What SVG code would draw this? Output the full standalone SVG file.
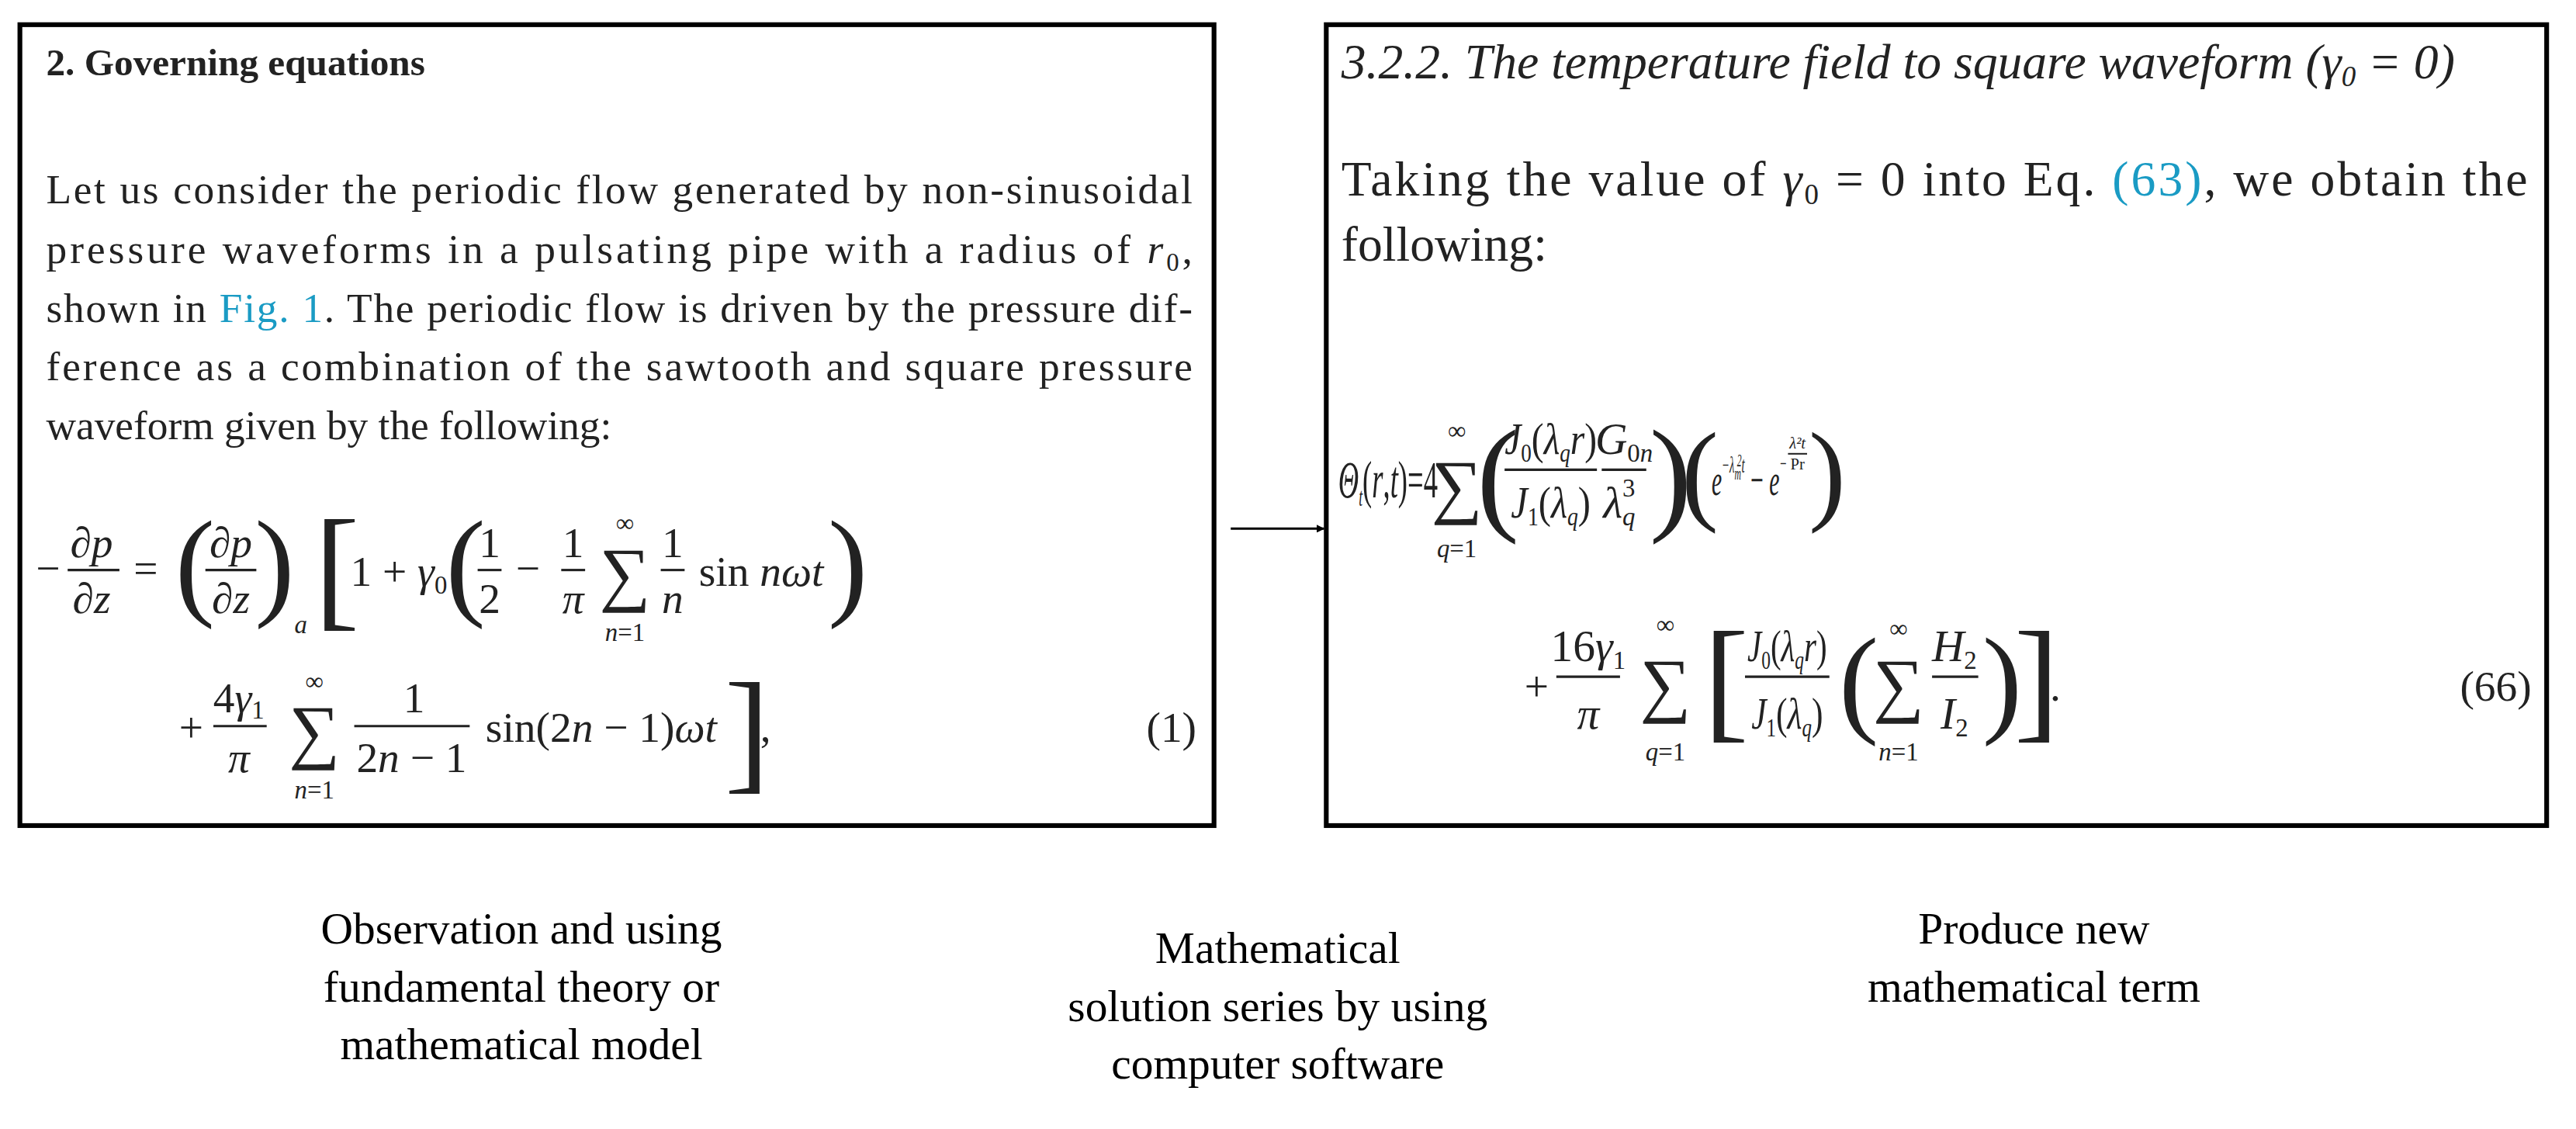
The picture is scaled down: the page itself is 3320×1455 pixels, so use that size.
<svg xmlns="http://www.w3.org/2000/svg" width="3320" height="1455" viewBox="0 0 3320 1455">
<style>
.box{fill:#fff;stroke:#000;stroke-width:6}
.t{font-family:"Liberation Serif",serif;fill:#222}
.b{font-size:52px}
.m{font-size:54px;font-style:italic}
.r{font-size:54px}
.s{font-size:32px}
.lk{fill:#1a9bc4}
.cap{font-family:"Liberation Serif",serif;font-size:56px;fill:#000;text-anchor:middle}
.bar{stroke:#222;stroke-width:3}
.big{font-family:"Liberation Serif",serif;fill:#222}
</style>
<defs><marker id="ah" viewBox="0 0 10 10" refX="9" refY="5" markerWidth="10" markerHeight="10" markerUnits="userSpaceOnUse" orient="auto"><path d="M0,0L10,5L0,10z"/></marker></defs>
<rect width="3320" height="1455" fill="#fff"/>
<g transform="scale(1.026)">
<g id="node-left">
<rect class="box" x="25" y="31" width="1500" height="1006"/>
<text class="t" x="58" y="95" font-size="48" font-weight="bold">2. Governing equations</text>
<g class="t b">
<text x="58" y="255" textLength="1440" lengthAdjust="spacing">Let us consider the periodic flow generated by non-sinusoidal</text>
<text x="58" y="330" textLength="1440" lengthAdjust="spacing">pressure waveforms in a pulsating pipe with a radius of <tspan font-style="italic">r</tspan><tspan font-size="32" dy="10">0</tspan><tspan dy="-10">,</tspan></text>
<text x="58" y="404" textLength="1440" lengthAdjust="spacing">shown in <tspan class="lk">Fig. 1</tspan>. The periodic flow is driven by the pressure dif-</text>
<text x="58" y="478" textLength="1440" lengthAdjust="spacing">ference as a combination of the sawtooth and square pressure</text>
<text x="58" y="552">waveform given by the following:</text>
</g>
<g class="t r">
<text x="45" y="732">−</text>
<text x="115" y="700" text-anchor="middle" class="m">∂p</text><line class="bar" x1="85" y1="716" x2="150" y2="716"/><text x="115" y="770" text-anchor="middle" class="m">∂z</text>
<text x="168" y="732">=</text>
<text x="220" y="758" font-size="150" class="big">(</text>
<text x="290" y="700" text-anchor="middle" class="m">∂p</text><line class="bar" x1="258" y1="716" x2="322" y2="716"/><text x="290" y="770" text-anchor="middle" class="m">∂z</text>
<text x="320" y="758" font-size="150" class="big">)</text>
<text x="370" y="795" class="s" font-style="italic">a</text>
<text x="395" y="770" font-size="170" class="big">[</text>
<text x="440" y="736">1 + <tspan font-style="italic">γ</tspan><tspan class="s" dy="10">0</tspan></text>
<text x="560" y="758" font-size="150" class="big">(</text>
<text x="615" y="700" text-anchor="middle">1</text><line class="bar" x1="600" y1="716" x2="630" y2="716"/><text x="615" y="770" text-anchor="middle">2</text>
<text x="648" y="732">−</text>
<text x="720" y="700" text-anchor="middle">1</text><line class="bar" x1="705" y1="716" x2="735" y2="716"/><text x="720" y="770" text-anchor="middle" class="m">π</text>
<text x="785" y="750" font-size="90" text-anchor="middle">∑</text>
<text x="785" y="668" class="s" text-anchor="middle">∞</text>
<text x="785" y="805" class="s" text-anchor="middle"><tspan font-style="italic">n</tspan>=1</text>
<text x="845" y="700" text-anchor="middle">1</text><line class="bar" x1="830" y1="716" x2="860" y2="716"/><text x="845" y="770" text-anchor="middle" class="m">n</text>
<text x="878" y="736">sin <tspan font-style="italic">nωt</tspan></text>
<text x="1040" y="758" font-size="150" class="big">)</text>
<text x="225" y="932">+</text>
<text x="300" y="895" text-anchor="middle">4<tspan font-style="italic">γ</tspan><tspan class="s" dy="8">1</tspan></text><line class="bar" x1="268" y1="912" x2="335" y2="912"/><text x="300" y="970" text-anchor="middle" class="m">π</text>
<text x="395" y="948" font-size="90" text-anchor="middle">∑</text>
<text x="395" y="866" class="s" text-anchor="middle">∞</text>
<text x="395" y="1003" class="s" text-anchor="middle"><tspan font-style="italic">n</tspan>=1</text>
<text x="520" y="895" text-anchor="middle">1</text><line class="bar" x1="445" y1="912" x2="590" y2="912"/><text x="517" y="970" text-anchor="middle">2<tspan font-style="italic">n</tspan> − 1</text>
<text x="610" y="932">sin(2<tspan font-style="italic">n</tspan> − 1)<tspan font-style="italic">ωt</tspan></text>
<text x="910" y="975" font-size="170" class="big">]</text>
<text x="955" y="932">,</text>
<text x="1440" y="932">(1)</text>
</g>
</g>
<g id="node-right">
<rect class="box" x="1666" y="31" width="1533" height="1006"/>
<text class="t" x="1685" y="98" font-size="62" font-style="italic">3.2.2. The temperature field to square waveform (<tspan>γ</tspan><tspan font-size="36" dy="10">0</tspan><tspan dy="-10"> = 0)</tspan></text>
<text class="t" x="1685" y="246" font-size="62" textLength="1490" lengthAdjust="spacing">Taking the value of <tspan font-style="italic">γ</tspan><tspan font-size="36" dy="10">0</tspan><tspan dy="-10"> = 0 into Eq. </tspan><tspan class="lk">(63)</tspan>, we obtain the</text>
<text class="t" x="1685" y="327" font-size="62">following:</text>
<g class="t r">
<text x="1681" y="625" font-size="66" textLength="125" lengthAdjust="spacingAndGlyphs"><tspan font-style="italic">Θ</tspan><tspan class="s" font-style="italic" dy="10">t</tspan><tspan dy="-10">(</tspan><tspan font-style="italic">r</tspan>,<tspan font-style="italic">t</tspan>)=4</text>
<text x="1830" y="640" font-size="90" text-anchor="middle">∑</text>
<text x="1830" y="552" class="s" text-anchor="middle">∞</text>
<text x="1830" y="700" class="s" text-anchor="middle"><tspan font-style="italic">q</tspan>=1</text>
<text x="1855" y="650" font-size="160" class="big">(</text>
<text x="1948" y="570" text-anchor="middle" font-size="56" textLength="116" lengthAdjust="spacingAndGlyphs"><tspan font-style="italic">J</tspan><tspan class="s" dy="10">0</tspan><tspan dy="-10">(</tspan><tspan font-style="italic">λ</tspan><tspan class="s" font-style="italic" dy="10">q</tspan><tspan dy="-10" font-style="italic">r</tspan>)</text>
<line class="bar" x1="1890" y1="590" x2="2006" y2="590"/>
<text x="1948" y="650" text-anchor="middle" font-size="56" textLength="100" lengthAdjust="spacingAndGlyphs"><tspan font-style="italic">J</tspan><tspan class="s" dy="10">1</tspan><tspan dy="-10">(</tspan><tspan font-style="italic">λ</tspan><tspan class="s" font-style="italic" dy="10">q</tspan><tspan dy="-10">)</tspan></text>
<text x="2040" y="570" text-anchor="middle" font-size="56"><tspan font-style="italic">G</tspan><tspan class="s" dy="10">0<tspan font-style="italic">n</tspan></tspan></text>
<line class="bar" x1="2012" y1="590" x2="2068" y2="590"/>
<text x="2034" y="650" text-anchor="middle" font-size="56"><tspan font-style="italic">λ</tspan><tspan class="s" font-style="italic" dy="10">q</tspan><tspan class="s" dx="-16" dy="-36">3</tspan></text>
<text x="2072" y="650" font-size="160" class="big">)</text>
<text x="2112" y="640" font-size="140" class="big">(</text>
<text x="2150" y="622" font-size="56" font-style="italic" textLength="95" lengthAdjust="spacingAndGlyphs">e<tspan font-size="28" dy="-28">−λ</tspan><tspan font-size="22" dy="8">m</tspan><tspan font-size="22" dx="-10" dy="-16">2</tspan><tspan font-size="28" dy="8">t</tspan><tspan font-size="56" font-style="normal" dy="28"> − </tspan>e<tspan font-size="28" dy="-30">−</tspan></text>
<text x="2258" y="563" font-size="20" font-style="italic" text-anchor="middle">λ²t</text>
<line x1="2246" y1="570" x2="2270" y2="570" stroke="#222" stroke-width="2"/>
<text x="2258" y="590" font-size="20" text-anchor="middle">Pr</text>
<text x="2272" y="640" font-size="140" class="big">)</text>
<text x="1915" y="880">+</text>
<text x="1995" y="830" text-anchor="middle" font-size="56">16<tspan font-style="italic">γ</tspan><tspan class="s" dy="10">1</tspan></text>
<line class="bar" x1="1955" y1="850" x2="2035" y2="850"/>
<text x="1995" y="915" text-anchor="middle" font-size="56" font-style="italic">π</text>
<text x="2092" y="890" font-size="90" text-anchor="middle">∑</text>
<text x="2092" y="795" class="s" text-anchor="middle">∞</text>
<text x="2092" y="955" class="s" text-anchor="middle"><tspan font-style="italic">q</tspan>=1</text>
<text x="2140" y="910" font-size="170" class="big">[</text>
<text x="2245" y="830" text-anchor="middle" font-size="56" textLength="100" lengthAdjust="spacingAndGlyphs"><tspan font-style="italic">J</tspan><tspan class="s" dy="10">0</tspan><tspan dy="-10">(</tspan><tspan font-style="italic">λ</tspan><tspan class="s" font-style="italic" dy="10">q</tspan><tspan dy="-10" font-style="italic">r</tspan>)</text>
<line class="bar" x1="2192" y1="850" x2="2298" y2="850"/>
<text x="2245" y="915" text-anchor="middle" font-size="56" textLength="90" lengthAdjust="spacingAndGlyphs"><tspan font-style="italic">J</tspan><tspan class="s" dy="10">1</tspan><tspan dy="-10">(</tspan><tspan font-style="italic">λ</tspan><tspan class="s" font-style="italic" dy="10">q</tspan><tspan dy="-10">)</tspan></text>
<text x="2310" y="905" font-size="150" class="big">(</text>
<text x="2385" y="890" font-size="90" text-anchor="middle">∑</text>
<text x="2385" y="800" class="s" text-anchor="middle">∞</text>
<text x="2385" y="955" class="s" text-anchor="middle"><tspan font-style="italic">n</tspan>=1</text>
<text x="2455" y="830" text-anchor="middle" font-size="56"><tspan font-style="italic">H</tspan><tspan class="s" dy="10">2</tspan></text>
<line class="bar" x1="2427" y1="850" x2="2485" y2="850"/>
<text x="2455" y="915" text-anchor="middle" font-size="56"><tspan font-style="italic">I</tspan><tspan class="s" dy="10">2</tspan></text>
<text x="2490" y="905" font-size="150" class="big">)</text>
<text x="2530" y="910" font-size="170" class="big">]</text>
<text x="2575" y="880">.</text>
<text x="3180" y="880" text-anchor="end">(66)</text>
</g>
</g>
<g id="connectors">
<line x1="1546" y1="664" x2="1663" y2="664" stroke="#000" stroke-width="3" marker-end="url(#ah)"/>
</g>
<g id="label-observation"><text class="cap" x="655" y="1185">Observation and using</text><text class="cap" x="655" y="1258">fundamental theory or</text><text class="cap" x="655" y="1330">mathematical model</text></g>
<g id="label-solution"><text class="cap" x="1605" y="1210">Mathematical</text><text class="cap" x="1605" y="1283">solution series by using</text><text class="cap" x="1605" y="1355">computer software</text></g>
<g id="label-produce"><text class="cap" x="2555" y="1185">Produce new</text><text class="cap" x="2555" y="1258">mathematical term</text></g>
</g>
</svg>
